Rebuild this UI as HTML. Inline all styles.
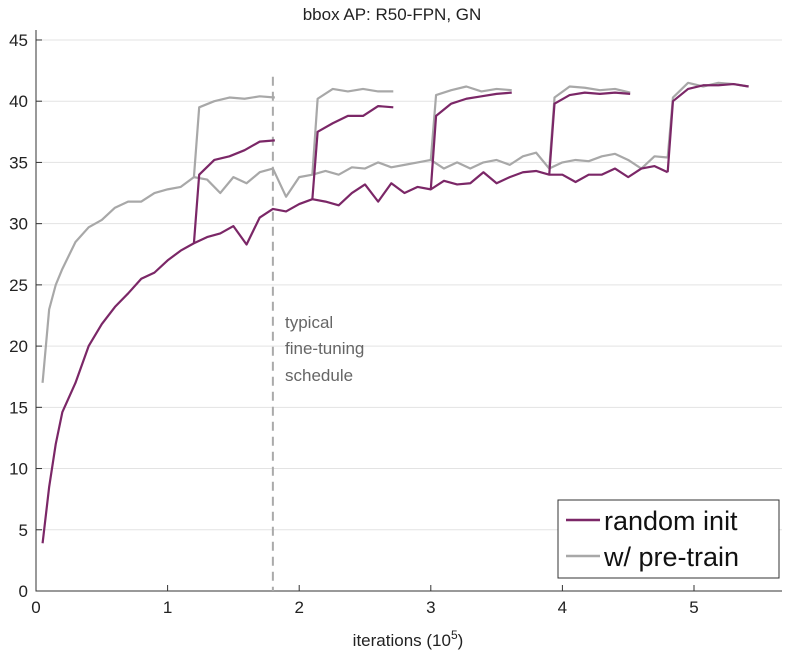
<!DOCTYPE html>
<html><head><meta charset="utf-8"><style>
body{margin:0;background:#fff;}
svg{display:block;font-family:"Liberation Sans",Arial,sans-serif;}
</style></head><body>
<svg id="chart" width="785" height="661"></svg>
<script>
const baseX = [0.05,0.1,0.15,0.2,0.3,0.4,0.5,0.6,0.7,0.8,0.9,1.0,1.1,1.2,1.3,1.4,1.5,1.6,1.7,1.8,1.9,2.0,2.1,2.2,2.3,2.4,2.5,2.6,2.7,2.8,2.9,3.0,3.1,3.2,3.3,3.4,3.5,3.6,3.7,3.8,3.9,4.0,4.1,4.2,4.3,4.4,4.5,4.6,4.7,4.8];
const randomBase = [3.9,8.5,12,14.6,17,20,21.8,23.2,24.3,25.5,26,27,27.8,28.4,28.9,29.2,29.8,28.3,30.5,31.2,31,31.6,32,31.8,31.5,32.5,33.2,31.8,33.3,32.5,33,32.8,33.5,33.2,33.3,34.2,33.3,33.8,34.2,34.3,34,34,33.4,34,34,34.5,33.8,34.5,34.7,34.2];
const pretrainBase = [17,23,25,26.3,28.5,29.7,30.3,31.3,31.8,31.8,32.5,32.8,33,33.8,33.6,32.5,33.8,33.3,34.2,34.5,32.2,33.8,34,34.3,34,34.6,34.5,35,34.6,34.8,35,35.2,34.5,35,34.5,35,35.2,34.8,35.5,35.8,34.5,35,35.2,35.1,35.5,35.7,35.2,34.5,35.5,35.4];
const branchStarts = [1.2,2.1,3.0,3.9,4.8];
const branchRandom = [[34,35.2,35.5,36,36.7,36.8],[37.5,38.2,38.8,38.8,39.6,39.5],[38.8,39.8,40.2,40.4,40.6,40.7],[39.8,40.5,40.7,40.6,40.7,40.6],[40,41,41.3,41.3,41.4,41.2]];
const branchPretrain = [[39.5,40,40.3,40.2,40.4,40.3],[40.2,41,40.8,41,40.8,40.8],[40.5,40.9,41.2,40.8,41,40.9],[40.3,41.2,41.1,40.9,41,40.7],[40.3,41.5,41.2,41.5,41.4,41.2]];
const xTicks = [0,1,2,3,4,5];
const yTicks = [0,5,10,15,20,25,30,35,40,45];

const NS="http://www.w3.org/2000/svg";
const svg=document.getElementById('chart');
const x0=36, xs=131.6, y0=591, ys=12.245;
const X=v=>x0+v*xs, Y=v=>y0-v*ys;
function mk(t,a,p){const e=document.createElementNS(NS,t);for(const k in a)e.setAttribute(k,a[k]);(p||svg).appendChild(e);return e;}

yTicks.forEach(v=>{
  if(v>0){const g=mk('line',{x1:x0,x2:782,y1:Y(v),y2:Y(v),stroke:'#e3e3e3','stroke-width':1});
  
  }
  const t=mk('line',{x1:x0,x2:x0+6,y1:Y(v),y2:Y(v),stroke:'#333'});
  
  
  const l=mk('text',{x:x0-8,y:Y(v)+6,'text-anchor':'end','font-size':17,fill:'#222'});
  l.textContent=v;
  
  
});
xTicks.forEach(v=>{
  const t=mk('line',{x1:X(v),x2:X(v),y1:y0,y2:y0-6,stroke:'#333'});
  
  
  const l=mk('text',{x:X(v),y:y0+22,'text-anchor':'middle','font-size':17,fill:'#222'});
  l.textContent=v;
  
  
});
const ax=mk('path',{d:`M${x0},30V${y0}H782`,fill:'none',stroke:'#333','stroke-width':1});



const dash=mk('line',{x1:X(1.8),x2:X(1.8),y1:Y(42),y2:y0,stroke:'#aaa','stroke-width':2,'stroke-dasharray':'9,6'});



function line(xsArr,ysArr,col,name){
  const p=mk('polyline',{points:xsArr.map((x,i)=>X(x)+','+Y(ysArr[i])).join(' '),fill:'none',stroke:col,'stroke-width':2.2,'stroke-linejoin':'round'});
  
  
}
const PUR='#7b2767', GR='#a8a8a8';
line(baseX,pretrainBase,GR,'pretrain-base-line');
line(baseX,randomBase,PUR,'random-base-line');
branchStarts.forEach((s,b)=>{
  const bx=[s].concat(branchRandom[b].map((_,k)=>s+0.04+k*0.115));
  const i=baseX.indexOf(s);
  line(bx,[pretrainBase[i]].concat(branchPretrain[b]),GR,'pretrain-branch-line');
  line(bx,[randomBase[i]].concat(branchRandom[b]),PUR,'random-branch-line');
});

function txt(x,y,s,size,fill,name,anchor){const t=mk('text',{x,y,'font-size':size,fill,'text-anchor':anchor||'start'});t.textContent=s;return t;}
txt(392,20,'bbox AP: R50-FPN, GN',17,'#222','chart-title','middle');
txt(285,328,'typical',17,'#666','annotation-line1');
txt(285,354,'fine-tuning',17,'#666','annotation-line2');
txt(285,381,'schedule',17,'#666','annotation-line3');
const xl=txt(408,646,'iterations (10',17,'#222','x-axis-title','middle');
const sup=document.createElementNS(NS,'tspan');sup.setAttribute('font-size',12);sup.setAttribute('dy',-7);sup.textContent='5';xl.appendChild(sup);
const cl=document.createElementNS(NS,'tspan');cl.setAttribute('dy',7);cl.textContent=')';xl.appendChild(cl);

const lg=mk('g',{});


mk('rect',{x:558,y:500,width:221,height:78,fill:'#fff',stroke:'#333','stroke-width':1},lg);
mk('line',{x1:566,x2:600,y1:520,y2:520,stroke:PUR,'stroke-width':2.5},lg);
mk('line',{x1:566,x2:600,y1:556,y2:556,stroke:GR,'stroke-width':2.5},lg);
const l1=mk('text',{x:604,y:530,'font-size':27,fill:'#111'},lg);l1.textContent='random init';


const l2=mk('text',{x:604,y:566,'font-size':27,fill:'#111'},lg);l2.textContent='w/ pre-train';


</script>
</body></html>
